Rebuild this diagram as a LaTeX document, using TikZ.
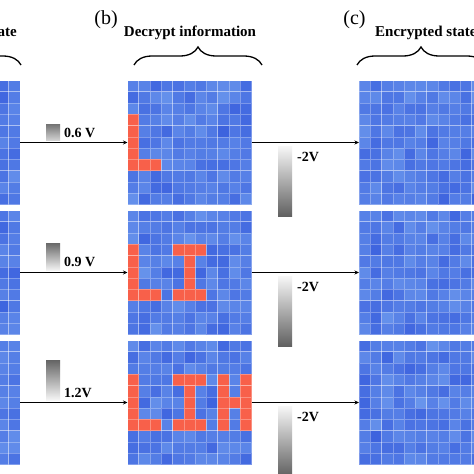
\documentclass[tikz,border=0pt]{standalone}
\usepackage{fontspec}
\setmainfont{Liberation Serif}
\usetikzlibrary{decorations.pathreplacing,arrows.meta}
\definecolor{bL}{RGB}{104,148,236}
\definecolor{bD}{RGB}{60,98,222}
\definecolor{rc}{RGB}{248,96,74}
\tikzset{
  gridbox/.style={rectangle,minimum width=124pt,minimum height=124pt,inner sep=0pt,outer sep=0pt,anchor=north west},
  cellst/.style={draw=white,draw opacity=0.3,line width=0.6pt},
  arr/.style={draw=black,line width=0.9pt,-{Stealth[length=4.5pt,width=4pt]}},
  lbar/.style={rectangle,minimum width=14pt,inner sep=0pt,outer sep=0pt},
  vlab/.style={font=\bfseries\fontsize{14}{16}\selectfont,inner sep=0pt},
  ttl/.style={font=\bfseries\fontsize{15}{18}\selectfont,inner sep=0pt},
  plab/.style={font=\fontsize{20}{22}\selectfont,inner sep=0pt},
  brc/.style={decorate,decoration={brace,amplitude=18pt},line width=1.3pt}
}
\def\cs{11.2727}
\newcommand\cellgrid[2]{%
  \pgfmathsetseed{#2}%
  \foreach \i in {0,...,10}{\foreach \j in {0,...,10}{%
    \pgfmathsetmacro\pp{int(50*(rnd+rnd))}%
    \path[cellst,fill=bD!\pp!bL,shift={(#1.north west)}] (\i*\cs,\j*\cs) rectangle ++(\cs,\cs);
  }}}
\newcommand\redcells[2]{%
  \foreach \i/\j in {#2}{%
    \path[cellst,fill=rc,shift={(#1.north west)}] (\i*\cs,\j*\cs) rectangle ++(\cs,\cs);
  }}
\begin{document}
\begin{tikzpicture}[x=1pt,y=-1pt]
\path[use as bounding box,clip] (0,0) rectangle (474,474);
\fill[white] (0,0) rectangle (474,474);
% grids
\foreach \r/\y in {1/80.5,2/210.5,3/340.5}{
  \node[gridbox] (L\r) at (-104,\y) {};
  \node[gridbox] (M\r) at (127.5,\y) {};
  \node[gridbox] (R\r) at (359,\y) {};
}
\cellgrid{L1}{11}\cellgrid{L2}{12}\cellgrid{L3}{13}
\cellgrid{M1}{21}\cellgrid{M2}{22}\cellgrid{M3}{23}
\cellgrid{R1}{31}\cellgrid{R2}{32}\cellgrid{R3}{33}
\redcells{M1}{0/3,0/4,0/5,0/6,0/7,1/7,2/7}
\redcells{M2}{0/3,0/4,0/5,0/6,0/7,1/7,2/7,4/3,5/3,6/3,5/4,5/5,5/6,4/7,5/7,6/7}
\redcells{M3}{0/3,0/4,0/5,0/6,0/7,1/7,2/7,4/3,5/3,6/3,5/4,5/5,5/6,4/7,5/7,6/7,8/3,8/4,8/5,8/6,8/7,10/3,10/4,10/5,10/6,10/7,9/5}
% arrows
\foreach \r in {1,2,3}{
  \draw[arr] (L\r.east) -- (M\r.west);
  \draw[arr] (M\r.east) -- (R\r.west);
}
% left voltage bars
\node[lbar,minimum height=16pt,anchor=south west,top color=black!55,bottom color=black!18] (g1) at (46,140) {};
\node[lbar,minimum height=27pt,anchor=south west,top color=black!58,bottom color=black!4] (g2) at (46,270.5) {};
\node[lbar,minimum height=40pt,anchor=south west,top color=black!60,bottom color=black!3] (g3) at (46,400.5) {};
\node[vlab,anchor=west] (v1) at (64,133) {0.6 V};
\node[vlab,anchor=west] (v2) at (64,262) {0.9 V};
\node[vlab,anchor=west] (v3) at (64,393) {1.2V};
% right voltage bars
\foreach \r/\y in {1/146,2/276,3/406}{
  \node[lbar,minimum height=70pt,anchor=north west,top color=black!3,bottom color=black!62] (h\r) at (278,\y) {};
  \node[vlab,anchor=west] (n\r) at (297,\y+10.5) {-2V};
}
% titles
\node[plab,anchor=base] (pb) at (106,24) {(b)};
\node[plab,anchor=base] (pc) at (354.5,24) {(c)};
\node[ttl,anchor=base] (tb) at (190,36.5) {Decrypt information};
\node[ttl,anchor=base west] (tc) at (375,36.5) {Encrypted state};
\node[ttl,anchor=base east] (ta) at (17,36.5) {Encrypted state};
% braces
\coordinate (ba1) at (-107,65); \coordinate (ba2) at (21,65);
\coordinate (bb1) at (134,65); \coordinate (bb2) at (262,65);
\coordinate (bc1) at (357,65); \coordinate (bc2) at (485,65);
\draw[brc] (ba1) -- (ba2);
\draw[brc] (bb1) -- (bb2);
\draw[brc] (bc1) -- (bc2);
\end{tikzpicture}
\end{document}
